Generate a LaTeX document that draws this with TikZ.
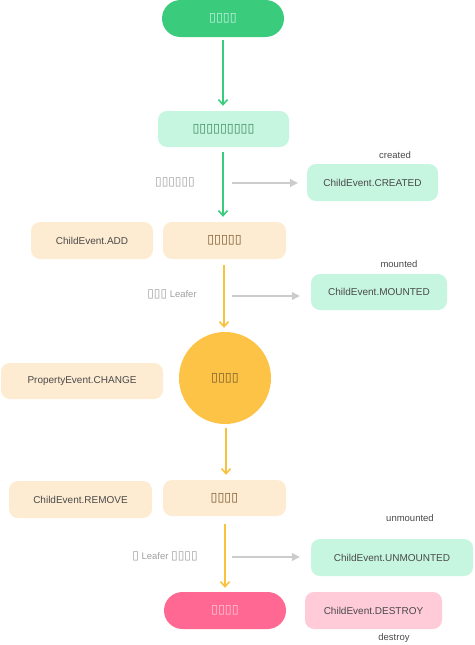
\documentclass[tikz,border=0pt]{standalone}
\usepackage{fontspec}
\setmainfont{Liberation Sans}
\newfontfamily\tofufont{DejaVu Sans}
\usetikzlibrary{arrows.meta}
\definecolor{gpill}{HTML}{3BCB7C}
\definecolor{mint}{HTML}{C6F5E0}
\definecolor{peach}{HTML}{FDEBD2}
\definecolor{ycirc}{HTML}{FCC347}
\definecolor{pinkpill}{HTML}{FF6892}
\definecolor{lpink}{HTML}{FFCBD8}
\definecolor{garrow}{HTML}{3BCB7C}
\definecolor{yarrow}{HTML}{F9C23C}
\definecolor{grayarrow}{HTML}{CCCCCC}
\definecolor{evtext}{HTML}{4A4A4A}
\definecolor{labtext}{HTML}{A0A0A0}
\definecolor{tgreen}{HTML}{3E8A60}
\definecolor{tbrown}{HTML}{7A5A2E}
\newcommand{\tf}{\tofufont\fontsize{12}{14}\selectfont}
\tikzset{
  box/.style={rounded corners=9pt, inner sep=0pt, font=\fontsize{10}{12}\selectfont, text=evtext},
  pill/.style={rounded corners=18.5pt, inner sep=0pt, minimum width=122pt, minimum height=37pt},
  tofu/.style={font=\tofufont\fontsize{12.5}{15}\selectfont},
  sidelab/.style={font=\fontsize{9.5}{11}\selectfont, text=labtext},
  toplab/.style={font=\fontsize{9.5}{11}\selectfont, text=evtext},
  varrow/.style={-{Straight Barb[length=5pt,width=9pt,line width=1.6pt]}, line width=1.8pt},
  harrow/.style={-{Triangle[length=8pt,width=8pt]}, line width=1.2pt, draw=grayarrow},
}
\begin{document}
\begin{tikzpicture}[x=1pt,y=-1pt]
\useasboundingbox (0,0) rectangle (474,645);
% main column
\node[pill, fill=gpill, text=mint, tofu] (start) at (223,18.5) {▯▯▯▯};
\node[box, fill=mint, minimum width=131pt, minimum height=36pt, text=tgreen, tofu] (init) at (223.5,129) {▯▯▯▯▯▯▯▯▯};
\node[box, fill=peach, minimum width=123pt, minimum height=37pt, text=tbrown, tofu] (add) at (224.5,240.5) {▯▯▯▯▯};
\node[circle, fill=ycirc, minimum size=92pt, inner sep=0pt, text=tbrown, tofu] (circ) at (225,378) {▯▯▯▯};
\node[box, fill=peach, minimum width=123pt, minimum height=36pt, text=tbrown, tofu] (rem) at (224.5,498) {▯▯▯▯};
\node[pill, fill=pinkpill, text=lpink, tofu] (end) at (225,610.5) {▯▯▯▯};
% left event boxes
\node[box, fill=peach, minimum width=122pt, minimum height=37pt] (evadd) at (92,240.5) {ChildEvent.ADD};
\node[box, fill=peach, minimum width=162pt, minimum height=36pt] (evchange) at (82,381) {PropertyEvent.CHANGE};
\node[box, fill=peach, minimum width=143pt, minimum height=37pt] (evremove) at (80.5,499.5) {ChildEvent.REMOVE};
% right event boxes
\node[box, fill=mint, minimum width=131pt, minimum height=37pt] (evcreated) at (372.5,182.5) {ChildEvent.CREATED};
\node[box, fill=mint, minimum width=136pt, minimum height=36pt] (evmounted) at (379,292) {ChildEvent.MOUNTED};
\node[box, fill=mint, minimum width=162pt, minimum height=37pt] (evunmounted) at (392,557.5) {ChildEvent.UNMOUNTED};
\node[box, fill=lpink, minimum width=137pt, minimum height=37pt] (evdestroy) at (373.5,610.5) {ChildEvent.DESTROY};
% top labels
\node[toplab] (lcreated) at (395,155) {created};
\node[toplab] (lmounted) at (399,264) {mounted};
\node[toplab] (lunmounted) at (410,518) {unmounted};
\node[toplab] (ldestroy) at (394,638) {destroy};
% side labels
\node[sidelab, font=\tf] (s1) at (175,182) {▯▯▯▯▯▯};
\node[sidelab] (s2) at (172,294) {{\tf ▯▯▯} Leafer};
\node[sidelab] (s3) at (165,556) {{\tf ▯} Leafer {\tf ▯▯▯▯}};
% coordinates for gray arrows
\coordinate (g1) at (232,183);
\coordinate (g2) at (232,296);
\coordinate (g3) at (232,557);
% vertical arrows
\draw[varrow, draw=garrow, shorten <=3pt, shorten >=5pt] (start.south) -- (start.south |- init.north);
\draw[varrow, draw=garrow, shorten <=5pt, shorten >=5pt] ([xshift=-0.5pt]init.south) -- ([xshift=-0.5pt]init.south |- add.north);
\draw[varrow, draw=yarrow, shorten <=6pt, shorten >=4pt] ([xshift=-0.5pt]add.south) -- ([xshift=-0.5pt]add.south |- circ.north);
\draw[varrow, draw=yarrow, shorten <=4pt, shorten >=5pt] ([xshift=1pt]circ.south) -- ([xshift=1pt]circ.south |- rem.north);
\draw[varrow, draw=yarrow, shorten <=8pt, shorten >=4pt] ([xshift=0.5pt]rem.south) -- ([xshift=0.5pt]rem.south |- end.north);
% gray arrows
\draw[harrow] (g1) -- ([xshift=-9pt]evcreated.west |- g1);
\draw[harrow] (g2) -- ([xshift=-11pt]evmounted.west |- g2);
\draw[harrow] (g3) -- ([xshift=-11pt]evunmounted.west |- g3);
\end{tikzpicture}
\end{document}
